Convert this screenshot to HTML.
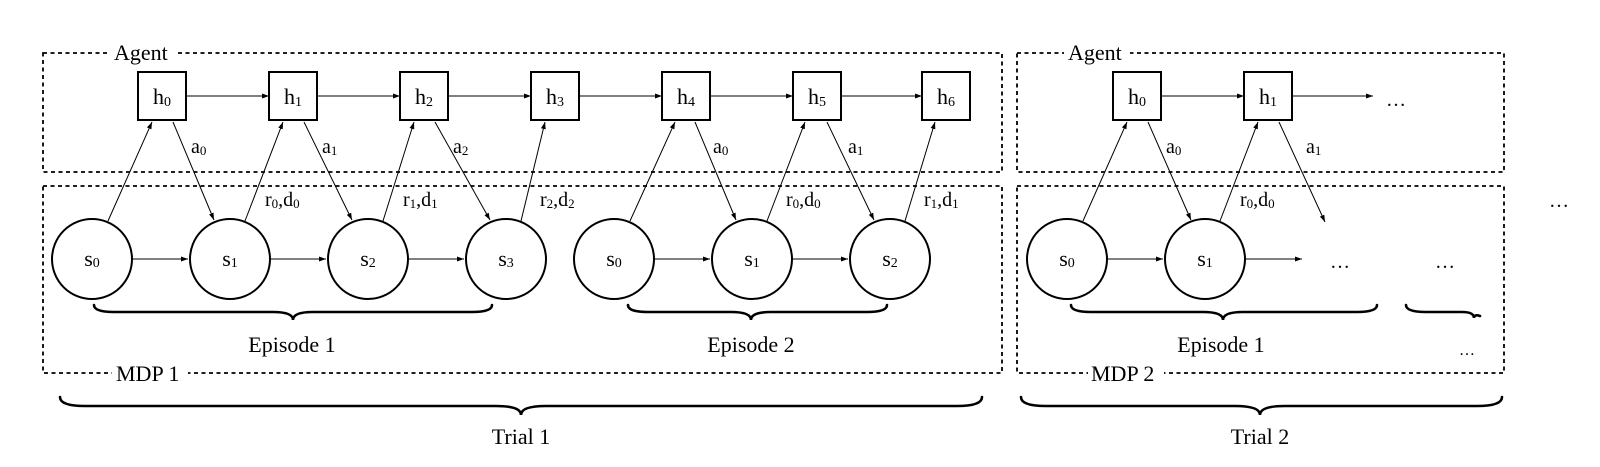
<!DOCTYPE html>
<html><head><meta charset="utf-8"><style>
html,body{margin:0;padding:0;background:#fff;}
svg{display:block;}
text{font-family:"Liberation Serif",serif;fill:#000;}
</style></head><body>
<svg width="1600" height="467" viewBox="0 0 1600 467" xmlns="http://www.w3.org/2000/svg">
<defs>
<marker id="ar" viewBox="0 0 10 10" refX="10" refY="5" markerWidth="7" markerHeight="7" orient="auto" markerUnits="userSpaceOnUse">
<path d="M0,1.5 L10,5 L0,8.5 z" fill="#000"/></marker>
</defs>
<g fill="none" stroke="#000" stroke-width="1.8" stroke-dasharray="4,3.5">
<rect x="43" y="53" width="959" height="119"/>
<rect x="43" y="186" width="959" height="187"/>
<rect x="1017" y="53" width="487" height="119"/>
<rect x="1017" y="186" width="487" height="187"/>
</g>
<rect x="110" y="42" width="66" height="20" fill="#fff"/>
<rect x="112" y="362" width="76" height="22" fill="#fff"/>
<rect x="1064" y="42" width="66" height="20" fill="#fff"/>
<rect x="1088" y="362" width="76" height="22" fill="#fff"/>
<g font-size="22">
<text x="114" y="60">Agent</text>
<text x="116" y="381">MDP 1</text>
<text x="1068" y="60">Agent</text>
<text x="1091" y="381">MDP 2</text>
</g>

<g fill="none" stroke="#000" stroke-width="2">
<rect x="138" y="72" width="48" height="48"/>
<rect x="269" y="72" width="48" height="48"/>
<rect x="400" y="72" width="48" height="48"/>
<rect x="531" y="72" width="48" height="48"/>
<rect x="662" y="72" width="48" height="48"/>
<rect x="793" y="72" width="48" height="48"/>
<rect x="922" y="72" width="48" height="48"/>
<rect x="1113" y="72" width="48" height="48"/>
<rect x="1244" y="72" width="48" height="48"/>
<circle cx="92" cy="259" r="40"/>
<circle cx="230" cy="259" r="40"/>
<circle cx="368" cy="259" r="40"/>
<circle cx="506" cy="259" r="40"/>
<circle cx="614" cy="259" r="40"/>
<circle cx="752" cy="259" r="40"/>
<circle cx="890" cy="259" r="40"/>
<circle cx="1067" cy="259" r="40"/>
<circle cx="1205" cy="259" r="40"/>
</g>

<g font-size="22" text-anchor="middle">
<text x="162" y="104">h<tspan font-size="14" dy="2">0</tspan></text>
<text x="293" y="104">h<tspan font-size="14" dy="2">1</tspan></text>
<text x="424" y="104">h<tspan font-size="14" dy="2">2</tspan></text>
<text x="555" y="104">h<tspan font-size="14" dy="2">3</tspan></text>
<text x="686" y="104">h<tspan font-size="14" dy="2">4</tspan></text>
<text x="817" y="104">h<tspan font-size="14" dy="2">5</tspan></text>
<text x="946" y="104">h<tspan font-size="14" dy="2">6</tspan></text>
<text x="1137" y="104">h<tspan font-size="14" dy="2">0</tspan></text>
<text x="1268" y="104">h<tspan font-size="14" dy="2">1</tspan></text>
<text x="92" y="266">s<tspan font-size="14" dy="1">0</tspan></text>
<text x="230" y="266">s<tspan font-size="14" dy="1">1</tspan></text>
<text x="368" y="266">s<tspan font-size="14" dy="1">2</tspan></text>
<text x="506" y="266">s<tspan font-size="14" dy="1">3</tspan></text>
<text x="614" y="266">s<tspan font-size="14" dy="1">0</tspan></text>
<text x="752" y="266">s<tspan font-size="14" dy="1">1</tspan></text>
<text x="890" y="266">s<tspan font-size="14" dy="1">2</tspan></text>
<text x="1067" y="266">s<tspan font-size="14" dy="1">0</tspan></text>
<text x="1205" y="266">s<tspan font-size="14" dy="1">1</tspan></text>
</g>

<g stroke="#000" stroke-width="1" marker-end="url(#ar)">
<line x1="186" y1="96" x2="269" y2="96"/>
<line x1="317" y1="96" x2="400" y2="96"/>
<line x1="448" y1="96" x2="531" y2="96"/>
<line x1="579" y1="96" x2="662" y2="96"/>
<line x1="710" y1="96" x2="793" y2="96"/>
<line x1="841" y1="96" x2="922" y2="96"/>
<line x1="1161" y1="96" x2="1244" y2="96"/>
<line x1="1292" y1="96" x2="1373" y2="96"/>
<line x1="133" y1="259" x2="188" y2="259"/>
<line x1="271" y1="259" x2="326" y2="259"/>
<line x1="409" y1="259" x2="464" y2="259"/>
<line x1="655" y1="259" x2="710" y2="259"/>
<line x1="793" y1="259" x2="848" y2="259"/>
<line x1="1108" y1="259" x2="1163" y2="259"/>
<line x1="1246" y1="259" x2="1302" y2="259"/>
<line x1="108" y1="221" x2="152" y2="122"/>
<line x1="245" y1="221" x2="283" y2="122"/>
<line x1="383" y1="221" x2="414" y2="122"/>
<line x1="521" y1="221" x2="545" y2="122"/>
<line x1="630" y1="221" x2="675" y2="122"/>
<line x1="767" y1="221" x2="805" y2="122"/>
<line x1="905" y1="221" x2="935" y2="122"/>
<line x1="1083" y1="221" x2="1127" y2="122"/>
<line x1="1220" y1="221" x2="1258" y2="122"/>
<line x1="173" y1="122" x2="214" y2="220"/>
<line x1="304" y1="122" x2="352" y2="220"/>
<line x1="435" y1="122" x2="490" y2="220"/>
<line x1="695" y1="122" x2="736" y2="220"/>
<line x1="827" y1="122" x2="874" y2="220"/>
<line x1="1148" y1="122" x2="1191" y2="220"/>
<line x1="1279" y1="122" x2="1325" y2="222"/>
</g>

<g font-size="20">
<text x="191" y="153">a<tspan font-size="13" dy="2">0</tspan></text>
<text x="322" y="153">a<tspan font-size="13" dy="2">1</tspan></text>
<text x="453" y="153">a<tspan font-size="13" dy="2">2</tspan></text>
<text x="713" y="153">a<tspan font-size="13" dy="2">0</tspan></text>
<text x="848" y="153">a<tspan font-size="13" dy="2">1</tspan></text>
<text x="1166" y="153">a<tspan font-size="13" dy="2">0</tspan></text>
<text x="1306" y="153">a<tspan font-size="13" dy="2">1</tspan></text>
<text x="265" y="206">r<tspan font-size="13" dy="2">0</tspan><tspan dy="-2">,d</tspan><tspan font-size="13" dy="2">0</tspan></text>
<text x="403" y="206">r<tspan font-size="13" dy="2">1</tspan><tspan dy="-2">,d</tspan><tspan font-size="13" dy="2">1</tspan></text>
<text x="540" y="206">r<tspan font-size="13" dy="2">2</tspan><tspan dy="-2">,d</tspan><tspan font-size="13" dy="2">2</tspan></text>
<text x="786" y="206">r<tspan font-size="13" dy="2">0</tspan><tspan dy="-2">,d</tspan><tspan font-size="13" dy="2">0</tspan></text>
<text x="924" y="206">r<tspan font-size="13" dy="2">1</tspan><tspan dy="-2">,d</tspan><tspan font-size="13" dy="2">1</tspan></text>
<text x="1240" y="206">r<tspan font-size="13" dy="2">0</tspan><tspan dy="-2">,d</tspan><tspan font-size="13" dy="2">0</tspan></text>
</g>

<g font-size="20">
<text x="1386" y="106">…</text>
<text x="1330" y="268">…</text>
<text x="1435" y="268">…</text>
<text x="1549" y="207">…</text>
<text x="1459" y="355" font-size="16">…</text>
</g>

<g fill="none" stroke="#000" stroke-width="2.6" stroke-linecap="round">
<path d="M94,305 Q94,312 114,312 L273,312 Q293,312 293,320 Q293,312 313,312 L472,312 Q492,312 492,305"/>
<path d="M628,305 Q628,312 648,312 L731,312 Q751,312 751,320 Q751,312 771,312 L867,312 Q887,312 887,305"/>
<path d="M1071,305 Q1071,312 1091,312 L1203,312 Q1223,312 1223,320 Q1223,312 1243,312 L1357,312 Q1377,312 1377,305"/>
<path d="M1406,305 Q1406,312 1426,312 L1462,312 Q1474,312 1474,318 Q1474,314 1480,316"/>
<path d="M60,397 Q60,406 85,406 L496,406 Q521,406 521,415 Q521,406 546,406 L957,406 Q982,406 982,397"/>
<path d="M1021,397 Q1021,406 1046,406 L1235,406 Q1260,406 1260,415 Q1260,406 1285,406 L1477,406 Q1502,406 1502,397"/>
</g>

<g font-size="22" text-anchor="middle">
<text x="292" y="352">Episode 1</text>
<text x="751" y="352">Episode 2</text>
<text x="1221" y="352">Episode 1</text>
<text x="521" y="444">Trial 1</text>
<text x="1260" y="444">Trial 2</text>
</g>
</svg>
</body></html>
